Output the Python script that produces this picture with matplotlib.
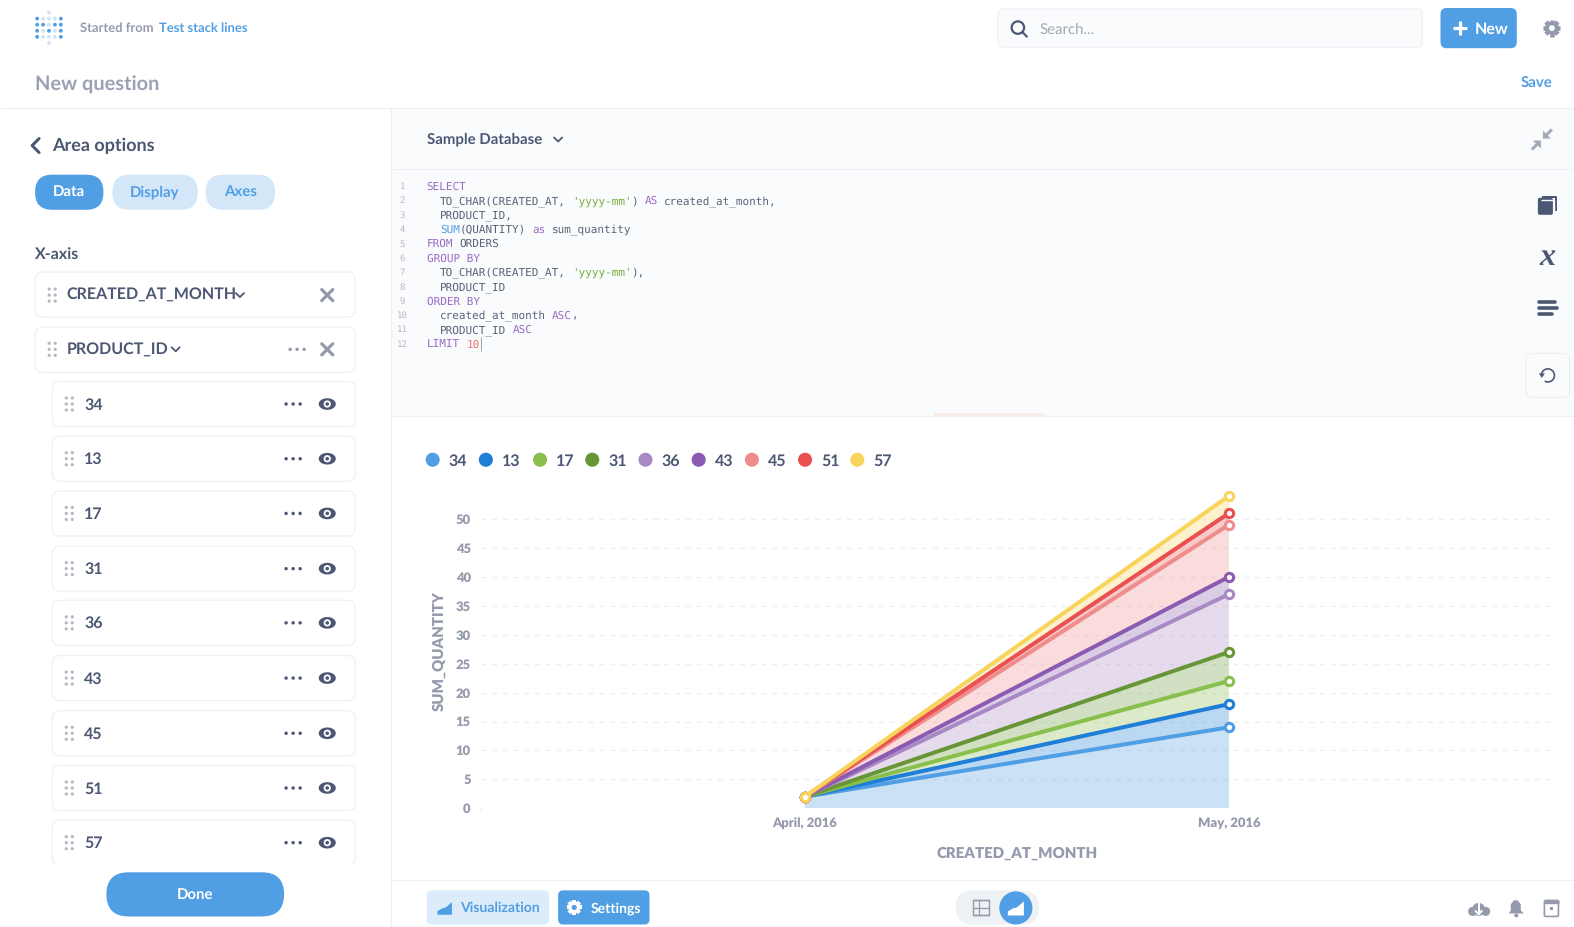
import numpy as np
import matplotlib
matplotlib.use('Agg')
import matplotlib.pyplot as plt
from matplotlib.patches import FancyBboxPatch, Circle, Rectangle, Polygon, Arc

plt.rcParams['font.family'] = ['Lato', 'DejaVu Sans']
plt.rcParams['text.hinting'] = 'no_hinting'
plt.rcParams['text.hinting_factor'] = 1

# chart data
months = ['April, 2016', 'May, 2016']
product_ids = ['34', '13', '17', '31', '36', '43', '45', '51', '57']
april_qty = [2, 0, 0, 0, 0, 0, 0, 0, 0]
may_qty = [14, 4, 4, 5, 10, 3, 9, 2, 3]
series_colors = ['#509ee3', '#1f7ed6', '#88bf4d', '#689636', '#a989c5',
                 '#8b5bb1', '#ef8c8c', '#e9504f', '#f9d45c']
y_ticks = [0, 5, 10, 15, 20, 25, 30, 35, 40, 45, 50]

# sql editor content: (text, kind) per line
sql_lines = [
    [('SELECT', 'kw')],
    [('  TO_CHAR(CREATED_AT, ', 'tx'), ("'yyyy-mm'", 'st'), (') ', 'tx'), ('AS', 'kw'), (' created_at_month,', 'tx')],
    [('  PRODUCT_ID,', 'tx')],
    [('  ', 'tx'), ('SUM', 'fn'), ('(QUANTITY) ', 'tx'), ('as', 'kw'), (' sum_quantity', 'tx')],
    [('FROM', 'kw'), (' ORDERS', 'tx')],
    [('GROUP BY', 'kw')],
    [('  TO_CHAR(CREATED_AT, ', 'tx'), ("'yyyy-mm'", 'st'), ('),', 'tx')],
    [('  PRODUCT_ID', 'tx')],
    [('ORDER BY', 'kw')],
    [('  created_at_month ', 'tx'), ('ASC', 'kw'), (',', 'tx')],
    [('  PRODUCT_ID ', 'tx'), ('ASC', 'kw')],
    [('LIMIT', 'kw'), (' ', 'tx'), ('10', 'nu')],
]
sql_colors = {'kw': '#9a6cc4', 'tx': '#5a6378', 'st': '#78ad3e', 'fn': '#509ee3', 'nu': '#ef7474'}

DARK = '#4c5773'
MID = '#949aab'
BLUE = '#509ee3'
PALE = '#d3e7f8'
LINE = '#eef0f3'
W, H = 1574, 927

fig = plt.figure(figsize=(W / 100, H / 100), dpi=100, facecolor='white')

# whole page overlay, units are screenshot pixels
ui = fig.add_axes([0, 0, 1, 1])
ui.set_xlim(0, 1568)
ui.set_ylim(923.5, 0)
ui.axis('off')


def txt(x, y, s, px=14, color=DARK, weight='bold', ha='left', **kw):
    return ui.text(x, y, s, fontsize=px * 0.72, color=color, fontweight=weight,
                   ha=ha, va='center_baseline', **kw)


def rbox(x0, y0, x1, y1, r, fc='white', ec='none', lw=1, z=2):
    p = FancyBboxPatch((x0, y0), x1 - x0, y1 - y0, boxstyle='round,pad=0,rounding_size=%s' % r,
                       fc=fc, ec=ec, lw=lw, zorder=z)
    ui.add_patch(p)


def seg(xs, ys, color, lw, z=4, cap='round'):
    ui.plot(xs, ys, color=color, lw=lw * 0.72, solid_capstyle=cap, zorder=z)


def dots3(x, y, color=DARK):
    for dx in (-7, 0, 7):
        ui.add_patch(Circle((x + dx, y), 1.7, fc=color, ec='none', zorder=4))


def grip(x, y):
    for dx in (-3, 3):
        for dy in (-6, 0, 6):
            ui.add_patch(Circle((x + dx, y + dy), 1.6, fc='#b4b8c5', ec='none', zorder=4))


def cross(x, y):
    seg([x - 5.5, x + 5.5], [y - 5.5, y + 5.5], MID, 3.2)
    seg([x - 5.5, x + 5.5], [y + 5.5, y - 5.5], MID, 3.2)


def chevron(x, y, color=DARK):
    seg([x - 4, x, x + 4], [y - 2, y + 2, y - 2], color, 1.8)


def eye(x, y):
    t = np.linspace(0, np.pi, 30)
    top = np.c_[x + 8.5 * np.cos(t), y - 5.8 * np.sin(t)]
    bot = np.c_[x - 8.5 * np.cos(t), y + 5.8 * np.sin(t)]
    ui.add_patch(Polygon(np.r_[top, bot], fc=DARK, ec='none', zorder=4))
    ui.add_patch(Circle((x, y), 3.6, fc='white', ec='none', zorder=5))
    ui.add_patch(Circle((x, y), 1.8, fc=DARK, ec='none', zorder=6))


def gear(x, y, r, color, hole='white'):
    for a in np.arange(0, np.pi, np.pi / 4):
        seg([x - r * np.cos(a), x + r * np.cos(a)], [y - r * np.sin(a), y + r * np.sin(a)],
            color, r * 0.55, z=5, cap='butt')
    ui.add_patch(Circle((x, y), r * 0.78, fc=color, ec='none', zorder=5))
    ui.add_patch(Circle((x, y), r * 0.34, fc=hole, ec='none', zorder=6))


def area_icon(x, y, color, s=1.0):
    pts = [(-8, 7), (-8, 3), (-3, 0), (1, -1), (8, -7), (8, 7)]
    ui.add_patch(Polygon([(x + a * s, y + b * s) for a, b in pts], fc=color, ec='none', zorder=6))


# page regions
ui.add_patch(Rectangle((390, 108), 1178, 307, fc='#fafbfd', ec='none', zorder=1))
seg([0, 1568], [108, 108], LINE, 1.2, cap='butt')
seg([390, 390], [108, 923.5], LINE, 1.2, cap='butt')
seg([390, 1568], [168, 168], LINE, 1.2, cap='butt')
seg([390, 1568], [414.5, 414.5], LINE, 1.2, cap='butt')
seg([390, 1568], [877, 877], LINE, 1.2, cap='butt')
ui.add_patch(Rectangle((930, 411), 110, 4, fc='#f9ece9', ec='none', zorder=3))

# logo
logo_rows = ['..x..', 'XoooX', 'XXoXX', 'XoXoX', 'XoooX', '..x..']
for r, row in enumerate(logo_rows):
    for c, ch in enumerate(row):
        if ch != '.':
            ui.add_patch(Circle((37 + c * 5.9, 12.5 + r * 6.05), 1.9, ec='none', zorder=4,
                                fc=BLUE if ch == 'X' else '#cfe4f7'))

# top bar
txt(80, 27, 'Started from ', 13, MID)
txt(158.5, 27, 'Test stack lines', 13, BLUE)
rbox(994, 9, 1417, 47, 6, fc='#fafbfd', ec='#eef0f3', lw=0.9)
ui.add_patch(Circle((1014, 27.5), 6.2, fc='none', ec=DARK, lw=1.6, zorder=4))
seg([1018.5, 1023], [32, 36.5], DARK, 2.2)
txt(1036, 28, 'Search...', 14.5, '#a3a8b7', weight='normal')
rbox(1435, 8, 1511, 48, 6, fc=BLUE)
seg([1447, 1461], [28, 28], 'white', 3.2, cap='butt')
seg([1454, 1454], [21, 35], 'white', 3.2, cap='butt')
txt(1469, 28, 'New', 15.5, 'white')
gear(1546, 28, 8.5, MID)

txt(35, 83, 'New question', 20, '#9ca1b2')
txt(1547, 82, 'Save', 15, BLUE, ha='right')

# left panel
seg([39, 32, 39], [138, 145, 152], DARK, 3)
txt(52, 144, 'Area options', 18.5, DARK)
rbox(35, 174, 103, 209, 17, fc=BLUE)
rbox(112, 174, 197, 209, 17, fc=PALE)
rbox(205, 174, 274, 209, 17, fc=PALE)
txt(69, 190, 'Data', 15, 'white', ha='center')
txt(154, 190, 'Display', 15, BLUE, ha='center')
txt(240, 190, 'Axes', 15, BLUE, ha='center')
txt(35, 252, 'X-axis', 15.5, DARK)

rbox(35, 271, 354, 316, 8, ec='#eef0f3', lw=0.9)
grip(52, 294)
txt(66.5, 293, 'CREATED_AT_MONTH', 15.6, DARK)
chevron(239, 294)
cross(326, 294)
rbox(35, 326, 354, 371, 8, ec='#eef0f3', lw=0.9)
grip(52, 348)
txt(66.5, 347.5, 'PRODUCT_ID', 15.8, DARK)
chevron(175, 348)
dots3(296, 348, MID)
cross(326, 348)

row_y = [402.5, 457, 511.5, 566.5, 620.5, 675.5, 730.5, 785, 839.5]
for pid, y in zip(product_ids, row_y):
    rbox(52, y - 22.5, 354, y + 22.5, 8, ec='#eef0f3', lw=0.9)
    grip(69, y)
    txt(84, y - 0.5, pid, 15.5, DARK)
    dots3(292, y)
    eye(326, y)
ui.add_patch(Rectangle((0, 861), 389, 62, fc='white', ec='none', zorder=3))
rbox(106, 869, 283, 913, 22, fc=BLUE, z=4)
txt(194, 890, 'Done', 15, 'white', ha='center', zorder=5)

# query header
txt(425, 137.5, 'Sample Database', 15, DARK)
chevron(556, 139)
for sx in (1, -1):
    seg([1536 + sx * 10, 1536 + sx * 4], [139 - sx * 10, 139 - sx * 4], '#a4a9b8', 3, cap='butt')
    ui.add_patch(Polygon([(1536 + sx * 1, 139 - sx * 1), (1536 + sx * 9, 139 - sx * 1),
                          (1536 + sx * 1, 139 - sx * 9)], fc='#a4a9b8', ec='none', zorder=4))

# sql editor
char_w = 6.575
for i, parts in enumerate(sql_lines):
    y = 185 + i * 14.27
    ui.text(401, y, str(i + 1), fontsize=6.2, family='DejaVu Sans Mono', color='#b8bbc4',
            ha='center', va='center_baseline')
    n = 0
    for s, kind in parts:
        # leading blanks get dropped from the measure, so shift by hand
        lead = len(s) - len(s.lstrip(' '))
        ui.text(425 + (n + lead) * char_w, y, s.strip(' '), fontsize=7.9, family='DejaVu Sans Mono',
                color=sql_colors[kind], ha='left', va='center_baseline')
        n += len(s)
seg([479.5, 479.5], [336, 350], '#a0a4ae', 1, cap='butt')

# editor side icons
rbox(1532, 197, 1547, 214, 2, fc=DARK, z=4)
seg([1536, 1550, 1550], [196.5, 196.5, 210], DARK, 2, cap='butt')
seg([1535, 1548], [199, 199], '#fafbfd', 1.4, z=5, cap='butt')
seg([1548.5, 1548.5], [199, 211], '#fafbfd', 1.4, z=5, cap='butt')
ui.text(1541, 253, 'x', fontsize=23, family='Liberation Serif', style='italic', fontweight='bold',
        color=DARK, ha='center', va='center_baseline')
seg([1533, 1549], [301, 301], DARK, 3.6)
seg([1533, 1551], [307, 307], DARK, 3.6)
seg([1533, 1546], [313, 313], DARK, 3.6)
rbox(1520, 352, 1564, 396, 7, fc='#fafbfd', ec='#f3eeee', lw=0.9)
ui.add_patch(Arc((1542, 374), 13, 13, theta1=-170, theta2=120, ec=DARK, lw=1.2, zorder=4))
ui.add_patch(Polygon([(1533, 372), (1539, 372), (1536, 376.5)], fc=DARK, ec='none', zorder=4))

# legend row
legend_x = [431, 484, 538, 590, 643, 696, 749, 802, 854]
for x, pid, c in zip(legend_x, product_ids, series_colors):
    ui.add_patch(Circle((x, 458), 7, fc=c, ec='none', zorder=4))
    txt(x + 16, 458.5, pid, 15.5, DARK)

# bottom bar
rbox(425, 887, 547, 921, 5, fc='#ddecfa')
area_icon(443, 905, BLUE, 0.9)
txt(458, 903.5, 'Visualization', 14, BLUE)
rbox(556, 887, 647, 921, 5, fc=BLUE)
gear(572, 904, 7.5, 'white', hole=BLUE)
txt(588, 903.5, 'Settings', 14, 'white')
rbox(952, 887, 1035, 921, 17, fc='#eef2f5')
for gy in (897, 904.5, 912):
    seg([969, 985], [gy, gy], MID, 1.4, z=5, cap='butt')
ui.add_patch(Rectangle((969, 897), 16, 15, fc='none', ec=MID, lw=1, zorder=5))
seg([975, 975], [897, 912], MID, 1.2, z=5, cap='butt')
ui.add_patch(Circle((1012, 904.5), 16.5, fc=BLUE, ec='none', zorder=5))
area_icon(1012, 905, 'white', 1.0)
# cloud, bell, calendar
for cx, cy, cr in [(1473, 906, 6.5), (1467, 908, 4.5), (1480, 908, 4.5)]:
    ui.add_patch(Circle((cx, cy), cr, fc=MID, ec='none', zorder=4))
seg([1473, 1473], [900, 910], 'white', 2, z=5, cap='butt')
seg([1469.5, 1473, 1476.5], [907, 911, 907], 'white', 2, z=5, cap='butt')
ui.add_patch(Polygon([(1503, 910), (1505, 907), (1505, 901), (1508, 897), (1512, 897), (1515, 901),
                      (1515, 907), (1518, 910)], fc=MID, ec='none', zorder=4))
ui.add_patch(Circle((1510.5, 912), 2, fc=MID, ec='none', zorder=4))
rbox(1538.5, 897, 1552.5, 913, 1.5, fc='white', ec=MID, lw=1.2)
seg([1538, 1553], [898.5, 898.5], MID, 3.4, z=5, cap='butt')
ui.add_patch(Rectangle((1544.5, 904), 2.5, 3, fc=MID, ec='none', zorder=5))

# the chart itself, laid out over the page
px_unit = 5.786
x_left, x_right = 480.7, 1553.0
y_zero = 808.3
y_max = 55
ax = fig.add_axes([x_left / W, (H - y_zero) / H, (x_right - x_left) / W, y_max * px_unit / H])
ax.patch.set_alpha(0)
for s in ax.spines.values():
    s.set_visible(False)

x = np.arange(len(months))
stacks = np.array([april_qty, may_qty], dtype=float).T
tops = np.cumsum(stacks, axis=0)
ax.stackplot(x, stacks, colors=series_colors, alpha=0.3, linewidth=0, zorder=2)
for top, c in zip(tops, series_colors):
    ax.plot(x, top, color=c, lw=2.9, marker='o', ms=6.0, mfc='white', mec=c, mew=2.2,
            clip_on=False, zorder=3)

margin = 324 / 424
ax.set_xlim(-margin, 1 + margin)
ax.set_ylim(0, y_max)
ax.set_yticks(y_ticks)
ax.set_xticks(x)
ax.set_xticklabels(months)
ax.set_xticks([-margin], minor=True)
ax.tick_params(axis='x', which='minor', length=3, width=0.8, color='#e6e8ec')
ax.tick_params(axis='both', which='major', length=0, labelcolor=MID, labelsize=13.4 * 0.72)
ax.tick_params(axis='y', pad=7.2)
ax.tick_params(axis='x', pad=6.4)
for lb in ax.get_xticklabels() + ax.get_yticklabels():
    lb.set_fontweight('heavy')
ax.grid(axis='y', color='#edeef1', lw=0.9, dashes=(4.0, 4.6), zorder=1)
ax.set_axisbelow(True)

ax.set_xlabel('CREATED_AT_MONTH', fontsize=15.1 * 0.72, fontweight='heavy', color=MID, va='center')
ax.xaxis.set_label_coords(0.5, -(853 - y_zero) / (y_max * px_unit))
ax.set_ylabel('SUM_QUANTITY', fontsize=15.4 * 0.72, fontweight='heavy', color=MID, va='center')
ax.yaxis.set_label_coords(-0.0388, 0.495)

fig.savefig('out.png', dpi=100)
